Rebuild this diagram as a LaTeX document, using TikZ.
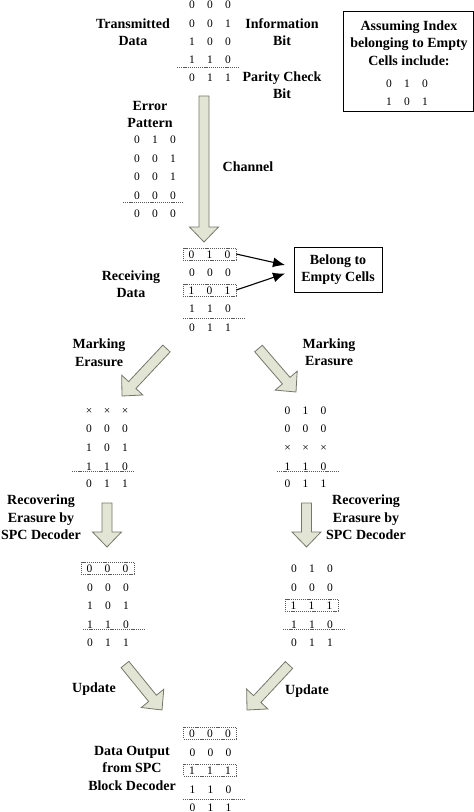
\documentclass[tikz,border=0pt]{standalone}
\usepackage{fontspec}
\setmainfont{Liberation Serif}
\usetikzlibrary{calc,arrows.meta}
\definecolor{afill}{RGB}{226,228,212}
\definecolor{aline}{RGB}{118,118,106}
\newcommand\rw[3]{\makebox[18pt]{#1}\makebox[18pt]{#2}\makebox[18pt]{#3}}
\newcommand\fatarr[2]{%
  \path ($(#2)!15pt!(#1)$) coordinate (hb);
  \filldraw[fat] ($(#1)!5pt!90:(#2)$) -- ($(hb)!5pt!90:(#2)$) -- ($(hb)!14.5pt!90:(#2)$) -- (#2)
    -- ($(hb)!14.5pt!-90:(#2)$) -- ($(hb)!5pt!-90:(#2)$) -- ($(#1)!5pt!-90:(#2)$) -- cycle;}
\begin{document}
\begin{tikzpicture}[x=1pt,y=-1pt,
  lbl/.style={font=\bfseries\fontsize{14}{17.5}\selectfont, align=center, inner sep=0pt},
  bits/.style={font=\fontsize{11.5}{14}\selectfont, inner xsep=0pt, inner ysep=2pt, text height=8pt, text depth=0pt},
  dbox/.style={draw=black!65, dash pattern=on 1.2pt off 0.9pt, line width=0.5pt, inner xsep=-0.5pt},
  sepline/.style={draw=black!65, dash pattern=on 1.2pt off 0.9pt, line width=0.6pt},
  fat/.style={fill=afill, draw=aline, line width=0.8pt, line join=miter},
  thinarr/.style={-{Latex[length=12pt,width=10pt]}, line width=1.1pt},
  frame/.style={draw, line width=0.8pt}]
\useasboundingbox (0,0) rectangle (474,812);

% ---- transmitted data
\node[bits] (t1) at (210,4) {\rw000};
\node[bits] (t2) at (210,23) {\rw001};
\node[bits] (t3) at (210,41) {\rw100};
\node[bits] (t4) at (210,59) {\rw110};
\node[bits] (t5) at (210,77) {\rw011};
\draw[sepline] (177,67) -- (238,67);
\node[lbl] (tx) at (133,32) {Transmitted\\Data};
\node[lbl] (info) at (282,32) {Information\\Bit};
\node[lbl] (par) at (282,85) {Parity Check\\Bit};

% ---- assumption box
\node[frame, minimum width=130pt, minimum height=100pt, inner sep=0pt] (assume) at (408,61) {};
\node[lbl] (astext) at (409,43) {Assuming Index\\belonging to Empty\\Cells include:};
\node[bits] (a1) at (407,83) {\rw010};
\node[bits] (a2) at (407,101) {\rw101};

% ---- error pattern
\node[lbl] (err) at (150,114.5) {Error\\Pattern};
\node[bits] (e1) at (155,139) {\rw010};
\node[bits] (e2) at (155,158) {\rw001};
\node[bits] (e3) at (155,176) {\rw001};
\node[bits] (e4) at (155,195) {\rw000};
\node[bits] (e5) at (155,213) {\rw000};
\draw[sepline] (123,202) -- (183,202);

% ---- channel
\node[lbl] (chan) at (248,167) {Channel};
\coordinate (chA) at (204,96);
\coordinate (chB) at (204,242);
\fatarr{chA}{chB}

% ---- receiving data
\node[bits,dbox] (r1) at (209.5,254) {\rw010};
\node[bits] (r2) at (210,272) {\rw000};
\node[bits,dbox] (r3) at (209.5,290) {\rw101};
\node[bits] (r4) at (210,308) {\rw110};
\node[bits] (r5) at (210,327) {\rw011};
\draw[sepline] (183,318) -- (244,318);
\node[lbl] (recv) at (131,284) {Receiving\\Data};
\node[lbl, frame, minimum width=88pt, minimum height=45pt] (belong) at (338,269.5) {Belong to\\Empty Cells};
\coordinate (bt1) at (285,265);
\coordinate (bt2) at (285,273.5);
\draw[thinarr] (r1.east) -- (bt1);
\draw[thinarr] (r3.east) -- (bt2);

% ---- marking erasure
\node[lbl] (markL) at (99,352.5) {Marking\\Erasure};
\node[lbl] (markR) at (329,352) {Marking\\Erasure};
\coordinate (mLa) at (166.5,348.5);
\coordinate (mLb) at (122,396);
\coordinate (mRa) at (258.5,348.5);
\coordinate (mRb) at (296,392);
\fatarr{mLa}{mLb}
\fatarr{mRa}{mRb}

\node[bits] (l1) at (107,410) {\rw{×}{×}{×}};
\node[bits] (l2) at (107,428) {\rw000};
\node[bits] (l3) at (107,447) {\rw101};
\node[bits] (l4) at (107,466) {\rw110};
\node[bits] (l5) at (107,483) {\rw011};
\draw[sepline] (72,471) -- (133,471);

\node[bits] (m1) at (305.5,410) {\rw010};
\node[bits] (m2) at (305.5,428) {\rw000};
\node[bits] (m3) at (305.5,447) {\rw{×}{×}{×}};
\node[bits] (m4) at (305.5,466) {\rw110};
\node[bits] (m5) at (305.5,483) {\rw011};
\draw[sepline] (277,471) -- (338,471);

% ---- recovering
\node[lbl] (recL) at (41,517.5) {Recovering\\Erasure by\\SPC Decoder};
\node[lbl] (recR) at (366,517.5) {Recovering\\Erasure by\\SPC Decoder};
\coordinate (rLa) at (107,503);
\coordinate (rLb) at (107,547);
\coordinate (rRa) at (306.5,503);
\coordinate (rRb) at (306.5,547);
\fatarr{rLa}{rLb}
\fatarr{rRa}{rRb}

\node[bits,dbox] (p1) at (107.5,568) {\rw000};
\node[bits] (p2) at (108,587) {\rw000};
\node[bits] (p3) at (108,605) {\rw101};
\node[bits] (p4) at (108,624) {\rw110};
\node[bits] (p5) at (108,642) {\rw011};
\draw[sepline] (83,629) -- (145,629);

\node[bits] (q1) at (312,568) {\rw010};
\node[bits] (q2) at (312,587) {\rw000};
\node[bits,dbox] (q3) at (311.5,605) {\rw111};
\node[bits] (q4) at (312,624) {\rw110};
\node[bits] (q5) at (312,642) {\rw011};
\draw[sepline] (283,629) -- (344,629);

% ---- update
\node[lbl] (upL) at (94,689) {Update};
\node[lbl] (upR) at (307,691) {Update};
\coordinate (uLa) at (125,664.5);
\coordinate (uLb) at (162,710);
\coordinate (uRa) at (289,665);
\coordinate (uRb) at (247,710);
\fatarr{uLa}{uLb}
\fatarr{uRa}{uRb}

% ---- output
\node[bits,dbox] (o1) at (210,733) {\rw000};
\node[bits] (o2) at (210.5,752) {\rw000};
\node[bits,dbox] (o3) at (210,770) {\rw111};
\node[bits] (o4) at (210.5,789) {\rw110};
\node[bits] (o5) at (210.5,807) {\rw011};
\draw[sepline] (183,799) -- (244,799);
\node[lbl] (out) at (132,768) {Data Output\\from SPC\\Block Decoder};
\end{tikzpicture}
\end{document}
